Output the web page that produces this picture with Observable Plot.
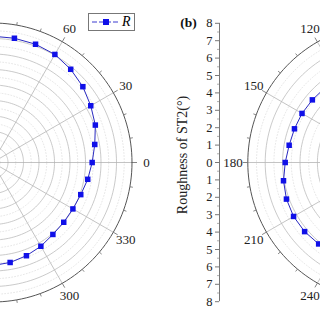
<!DOCTYPE html>
<html><head><meta charset="utf-8">
<script src="https://cdn.jsdelivr.net/npm/d3@7"></script>
<script src="https://cdn.jsdelivr.net/npm/@observablehq/plot@0.6"></script>
<style>
html,body{margin:0;padding:0;background:#fff}
#c{width:320px;height:320px;overflow:hidden;position:relative}
#c svg text{font-family:'Liberation Serif','Times New Roman',serif}
#legend{position:absolute;left:88px;top:13px;width:47px;height:18px;border:1px solid #777;background:#fff;box-sizing:border-box;font-family:'Liberation Serif','Times New Roman',serif;font-style:italic;font-size:14px;line-height:16px}
#legend svg{position:absolute;left:3px;top:2px}
#legend span{position:absolute;left:33px;top:0px}
</style>
</head><body><div id="c"><div id="legend"><svg width="28" height="12"><line x1="0" y1="6" x2="28" y2="6" stroke="#3a3ad0" stroke-width="1" stroke-dasharray="5,2"/><rect x="11" y="3" width="6" height="6" fill="#1010e8"/></svg><span>R</span></div></div>
<script>
// Panel (a): angle (deg) and radius values
const anglesA = [90, 80, 70, 60, 50, 40, 30, 20, 10, 0, 350, 340, 330, 320, 310, 300, 290, 280, 270];
const valuesA = [8.15, 8.14, 8.12, 8.05, 7.85, 7.61, 7.32, 7.06, 6.70, 6.43, 6.24, 6.06, 5.99, 6.00, 6.06, 6.24, 6.40, 6.55, 6.65];
// Panel (b)
const anglesB = [130, 140, 150, 160, 170, 180, 190, 200, 210, 220, 230, 240];
const valuesB = [5.58, 5.60, 5.64, 5.66, 5.71, 5.85, 6.04, 6.15, 6.20, 6.18, 6.11, 6.05];
const angleLabelsA = [60, 30, 0, 330, 300];
const angleLabelsB = [120, 150, 180, 210, 240];
const yTicks = [-8, -7, -6, -5, -4, -3, -2, -1, 0, 1, 2, 3, 4, 5, 6, 7, 8];
const seriesName = "R";
const yTitle = "Roughness of ST2(°)";
const panelTag = "(b)";

const panelA = {cx: -8, k: 15.5, rmax: 9};
const panelB = {cx: 386.5, k: 17.4, rmax: 8};
const rad = a => a * Math.PI / 180;
const px = (p, a, r) => p.cx + p.k * r * Math.cos(rad(a));
const py = (p, a, r) => p.k * r * Math.sin(rad(a));

function rings(p, list, tag) {
  const out = [];
  for (const r of list) for (let a = 0; a <= 360; a += 2) out.push({x: px(p, a, r), y: py(p, a, r), z: tag + r});
  return out;
}
function spokes(p) {
  const out = [];
  for (let a = 0; a < 360; a += 30) out.push({x1: p.cx, y1: 0, x2: px(p, a, p.rmax), y2: py(p, a, p.rmax)});
  return out;
}
function outerTicks(p) {
  const out = [];
  for (let a = 0; a < 360; a += 10) {
    const L = a % 30 === 0 ? 5 : 3;
    const r2 = p.rmax + L / p.k;
    out.push({x1: px(p, a, p.rmax), y1: py(p, a, p.rmax), x2: px(p, a, r2), y2: py(p, a, r2)});
  }
  return out;
}
const majorA = d3.range(1, panelA.rmax), majorB = d3.range(1, panelB.rmax);
const minorA = d3.range(0.5, panelA.rmax, 1), minorB = d3.range(0.5, panelB.rmax, 1);

const ptsA = anglesA.map((a, i) => ({x: px(panelA, a, valuesA[i]), y: py(panelA, a, valuesA[i])}));
const ptsB = anglesB.map((a, i) => ({x: px(panelB, a, valuesB[i]), y: py(panelB, a, valuesB[i])}));
const lblR = 154;
const lblA = angleLabelsA.map(a => ({x: panelA.cx + lblR * Math.cos(rad(a)), y: lblR * Math.sin(rad(a)), t: String(a)}));
const lblB = angleLabelsB.map(a => ({x: panelB.cx + lblR * Math.cos(rad(a)), y: lblR * Math.sin(rad(a)), t: String(a)}));

const axisX = 219, kY = panelB.k;
const minorY = d3.range(-7.5, 8, 1);
const serif = "'Liberation Serif', 'Times New Roman', serif";

const chart = Plot.plot({
  width: 320, height: 320,
  marginTop: 0, marginBottom: 0, marginLeft: 0, marginRight: 0,
  x: {domain: [0, 320], axis: null},
  y: {domain: [-158, 162], axis: null},
  style: {background: "white", fontFamily: serif},
  marks: [
    Plot.line(rings(panelA, minorA, "a").concat(rings(panelB, minorB, "b")), {x: "x", y: "y", z: "z", stroke: "#d6d6d6", strokeWidth: 0.6, strokeDasharray: "1,2", clip: true}),
    Plot.line(rings(panelA, majorA, "a").concat(rings(panelB, majorB, "b")), {x: "x", y: "y", z: "z", stroke: "#bdbdbd", strokeWidth: 0.8, clip: true}),
    Plot.link(spokes(panelA).concat(spokes(panelB)), {x1: "x1", y1: "y1", x2: "x2", y2: "y2", stroke: "#b5b5b5", strokeWidth: 0.8, clip: true}),
    Plot.line(rings(panelA, [panelA.rmax], "a").concat(rings(panelB, [panelB.rmax], "b")), {x: "x", y: "y", z: "z", stroke: "#555", strokeWidth: 1, clip: true}),
    Plot.link(outerTicks(panelA).concat(outerTicks(panelB)), {x1: "x1", y1: "y1", x2: "x2", y2: "y2", stroke: "#666", strokeWidth: 0.8, clip: true}),
    Plot.line(ptsA, {x: "x", y: "y", stroke: "#2a2ac0", strokeWidth: 1, clip: true}),
    Plot.line(ptsB, {x: "x", y: "y", stroke: "#2a2ac0", strokeWidth: 1, clip: true}),
    Plot.dot(ptsA.concat(ptsB), {x: "x", y: "y", symbol: "square", r: 3.1, fill: "#1010e8", stroke: "none", clip: true}),
    Plot.text(lblA.concat(lblB), {x: "x", y: "y", text: "t", fontSize: 13, fill: "#222"}),
    Plot.ruleX([axisX], {y1: -8 * kY, y2: 8 * kY, stroke: "#555", strokeWidth: 0.8}),
    Plot.ruleY(yTicks, {y: d => d * kY, x1: axisX - 4, x2: axisX, stroke: "#555", strokeWidth: 0.8}),
    Plot.ruleY(minorY, {y: d => d * kY, x1: axisX - 2, x2: axisX, stroke: "#777", strokeWidth: 0.6}),
    Plot.text(yTicks, {x: axisX - 7, y: d => d * kY, text: d => String(Math.abs(d)), textAnchor: "end", fontSize: 12.5, fill: "#222"}),
    Plot.text([yTitle], {x: 182, y: 7.5, text: d => d, rotate: -90, fontSize: 14, fill: "#222"}),
    Plot.text([panelTag], {x: 188, y: 140, text: d => d, fontSize: 13.5, fontWeight: "bold", fill: "#111"})
  ]
});
document.getElementById("c").prepend(chart);
</script>
</body></html>
